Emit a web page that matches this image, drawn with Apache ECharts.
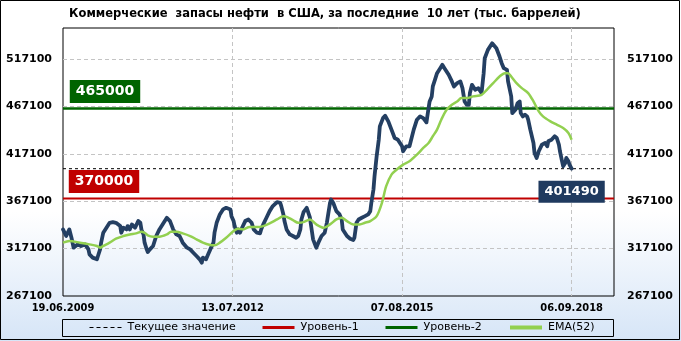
<!DOCTYPE html>
<html>
<head>
<meta charset="utf-8">
<script src="https://cdn.jsdelivr.net/npm/echarts@6/dist/echarts.min.js"></script>
<style>html,body{margin:0;padding:0;background:#fff}#c{width:681px;height:341px}</style>
</head>
<body>
<div id="c"></div>
<script>
// ---- data ----
const titleText = 'Коммерческие  запасы нефти  в США, за последние  10 лет (тыс. баррелей)';
const xTickLabels = ['19.06.2009', '13.07.2012', '07.08.2015', '06.09.2018'];
const yTickLabels = [267100, 317100, 367100, 417100, 467100, 517100];
const stockWeeks = [0,3,6,8,10,11,14,17,21,24,25,28,32,33,35,36,38,41,44,47,50,54,55,57,60,61,63,65,68,71,73,74,76,77,79,80,82,85,88,91,95,98,99,101,104,107,110,113,117,120,123,126,129,131,132,135,137,139,142,143,145,148,151,154,158,159,161,162,164,165,167,169,172,175,178,180,183,186,187,189,192,195,198,202,205,206,208,209,211,214,217,220,222,224,225,227,230,233,236,239,241,244,247,249,250,252,253,255,258,261,263,264,268,271,274,275,277,279,282,285,288,290,291,293,294,296,298,299,302,304,307,310,313,316,320,321,324,327,331,334,337,340,343,345,346,348,349,351,353,356,358,360,364,367,369,372,375,377,379,381,383,384,386,389,392,395,397,398,401,405,406,409,412,414,416,419,420,423,424,427,429,431,432,434,436,438,439,441,444,445,447,449,452,455,457,458,461,464,466,468,469,471,472,474,475,477,478,479,480];
const stockValues = [337400,330400,337400,328600,318100,319900,321600,319900,321600,316300,311100,307600,305800,309300,316300,323400,333900,339200,344400,345100,344400,340900,333900,339200,337400,340900,337400,342700,339200,346200,344400,337400,332100,323400,316300,313500,316300,319900,330400,337400,344400,349700,349700,346200,337400,332100,330400,323400,318100,316300,312800,309300,305800,302300,307600,305800,311100,316300,323400,333900,344400,353200,358500,360200,358500,351400,346200,340900,333900,337400,333900,339200,346200,347900,344400,337400,333900,333200,337400,342700,349700,356700,362000,366200,365500,362000,353200,346200,337400,332100,330400,328600,330400,337400,347900,355600,360200,350000,326900,318100,323400,330400,333900,344400,351400,365500,369000,365500,356700,353200,347900,337400,330400,327600,326200,328600,344400,347900,349700,351400,353200,356700,365500,379500,393500,414600,432100,446200,454900,457400,451400,442700,433900,432100,425100,419900,425100,425100,442700,453200,456700,454900,450400,465500,472500,477800,488300,495300,502300,507600,511100,507600,500600,493600,488300,491800,493600,486500,472500,469000,469000,481300,490000,484800,486500,481300,502300,518100,526900,533900,535700,528600,519900,512900,507600,505800,493600,477800,460200,463700,470700,472500,460200,456700,458500,456700,453200,442700,428600,418100,412800,419900,426900,428600,425100,430400,432100,435700,433900,426900,419900,409300,404100,407600,412800,409300,405800,404100,401490];
const emaWeeks = [0,6,16,25,32,35,38,44,50,57,63,69,74,77,80,85,91,98,102,107,113,120,126,132,139,143,148,154,161,165,170,176,183,189,195,202,208,211,217,222,227,233,239,246,252,258,263,268,274,280,285,290,296,301,305,310,315,321,327,334,340,345,349,353,357,362,367,372,376,381,387,395,400,406,412,417,420,423,428,433,439,444,449,453,460,466,472,477,480];
const emaValues = [323400,325100,323400,321600,319900,318100,319900,323400,327600,330400,332100,333200,334900,333900,331100,329700,329700,332100,334900,334900,333200,330400,326900,323400,320900,320600,323400,328600,335600,338100,337400,339900,339900,340900,343700,347900,351400,350700,347200,344400,345100,347900,342700,339200,342700,347900,349700,346200,342700,342700,344400,346200,351400,365500,383000,395300,400600,405800,409300,416300,423400,428600,435700,442700,453200,463700,469000,472500,476000,476000,477800,479500,484800,491800,498800,502300,502300,498800,491800,486500,481300,472500,462000,456700,451400,447900,444400,439200,432100];
const currentValue = 401490;
const level1 = 370000;
const level2 = 465000;
const legendNames = ['Текущее значение', 'Уровень-1', 'Уровень-2', 'EMA(52)'];

// ---- scales ----
const xMin = 0, xMax = 520, xStep = 160;
const yMin = 267100, yMax = 550000, yStep = 50000;

const zip = (a, b) => a.map((v, i) => [v, b[i]]);
const lastWeek = stockWeeks[stockWeeks.length - 1];

const chart = echarts.init(document.getElementById('c'), null, {renderer: 'canvas'});

const yLabel = (v) => (yTickLabels.indexOf(v) >= 0 ? String(v) : '');
const yAxisBase = {
  type: 'value', min: yMin, max: yMax, interval: yStep,
  axisLine: {show: false}, axisTick: {show: false},
  axisLabel: {color: '#000', fontFamily: 'DejaVu Sans', fontWeight: 'bold', fontSize: 11, formatter: yLabel}
};

const boxLabel = (bg, size) => ({
  show: true, color: '#fff', fontFamily: 'DejaVu Sans', fontWeight: 'bold', fontSize: size,
  backgroundColor: bg, padding: [4, 6, 4, 6], lineHeight: size + 1
});

const legendBase = {
  top: 322, padding: 0, itemHeight: 11, itemWidth: 32, itemGap: 0,
  itemStyle: {opacity: 0, borderWidth: 0},
  textStyle: {color: '#000', fontFamily: 'DejaVu Sans', fontSize: 11, padding: [0, 0, 0, 1]}
};

chart.setOption({
  animation: false,
  backgroundColor: {
    type: 'linear', x: 0, y: 0, x2: 0, y2: 1,
    colorStops: [{offset: 0, color: '#ffffff'}, {offset: 0.62, color: '#ffffff'}, {offset: 1, color: '#d6e5f7'}]
  },
  grid: {left: 63, right: 67, top: 28, bottom: 45, show: true, borderColor: '#000', borderWidth: 1, backgroundColor: 'transparent'},
  xAxis: {
    type: 'value', min: xMin, max: xMax, interval: xStep,
    axisLine: {show: false}, axisTick: {show: false},
    axisLabel: {
      color: '#000', fontFamily: 'DejaVu Sans Condensed', fontWeight: 'bold', fontSize: 11, margin: 7,
      formatter: (v) => (v % xStep === 0 && xTickLabels[v / xStep]) ? xTickLabels[v / xStep] : ''
    },
    splitLine: {show: true, showMinLine: false, showMaxLine: false, lineStyle: {color: '#c4c4c4', type: [4, 3], width: 1}}
  },
  yAxis: [
    Object.assign({}, yAxisBase, {
      position: 'left',
      axisLabel: Object.assign({}, yAxisBase.axisLabel, {margin: 11}),
      splitLine: {show: true, showMinLine: false, showMaxLine: false, lineStyle: {color: '#c4c4c4', type: [4, 3], width: 1}}
    }),
    Object.assign({}, yAxisBase, {
      position: 'right',
      axisLabel: Object.assign({}, yAxisBase.axisLabel, {margin: 13}),
      splitLine: {show: false}
    })
  ],
  legend: [
    Object.assign({}, legendBase, {left: 89, data: [legendNames[0]], lineStyle: {width: 1, type: [4, 3]}}),
    Object.assign({}, legendBase, {left: 261, data: [legendNames[1]], lineStyle: {width: 3}}),
    Object.assign({}, legendBase, {left: 384, data: [legendNames[2]], lineStyle: {width: 3}}),
    Object.assign({}, legendBase, {left: 508, data: [legendNames[3]], lineStyle: {width: 4}})
  ],
  graphic: [
    {type: 'text', z: 10, style: {text: titleText, x: 325, y: 14, align: 'center', verticalAlign: 'middle',
      font: 'bold 12.8px "DejaVu Sans Condensed"', fill: '#000'}},
    {type: 'rect', z: 10, shape: {x: 62.5, y: 319.5, width: 551, height: 17}, style: {fill: null, stroke: '#000', lineWidth: 1}},
    {type: 'rect', z: 10, shape: {x: 0.5, y: 0.5, width: 679, height: 339}, style: {fill: null, stroke: '#000', lineWidth: 1}}
  ],
  series: [
    {
      name: legendNames[2], type: 'line', symbol: 'none', silent: true, z: 2,
      data: [[xMin, level2], [xMax, level2]],
      lineStyle: {color: '#006400', width: 2.5}, itemStyle: {color: '#006400'},
      markPoint: {symbol: 'rect', symbolSize: 1, itemStyle: {color: 'transparent'}, silent: true,
        data: [{coord: [xMin, level2], value: level2, label: Object.assign(boxLabel('#006400', 14), {offset: [42, -17], formatter: String(level2)})}]}
    },
    {
      name: legendNames[1], type: 'line', symbol: 'none', silent: true, z: 2,
      data: [[xMin, level1], [xMax, level1]],
      lineStyle: {color: '#c00000', width: 2}, itemStyle: {color: '#c00000'},
      markPoint: {symbol: 'rect', symbolSize: 1, itemStyle: {color: 'transparent'}, silent: true,
        data: [{coord: [xMin, level1], value: level1, label: Object.assign(boxLabel('#c00000', 14), {offset: [41, -17], formatter: String(level1)})}]}
    },
    {
      name: legendNames[0], type: 'line', symbol: 'none', silent: true, z: 2,
      data: [[xMin, currentValue], [xMax, currentValue]],
      lineStyle: {color: '#000', width: 1, type: [3, 3]}, itemStyle: {color: '#000'}
    },
    {
      name: 'Запасы', type: 'line', symbol: 'none', silent: true, z: 3,
      data: zip(stockWeeks, stockValues),
      lineStyle: {color: '#243f62', width: 3.8, join: 'round', cap: 'round'},
      markPoint: {symbol: 'rect', symbolSize: 1, itemStyle: {color: 'transparent'}, silent: true, z: 20,
        data: [{coord: [lastWeek, currentValue], value: currentValue, label: Object.assign(boxLabel('#1f3a5f', 13), {offset: [0, 23], formatter: String(currentValue)})}]}
    },
    {
      name: legendNames[3], type: 'line', symbol: 'none', silent: true, z: 4,
      data: zip(emaWeeks, emaValues), smooth: 0.3,
      lineStyle: {color: '#92d050', width: 2.5}, itemStyle: {color: '#92d050'}
    }
  ]
});
</script>
</body>
</html>
